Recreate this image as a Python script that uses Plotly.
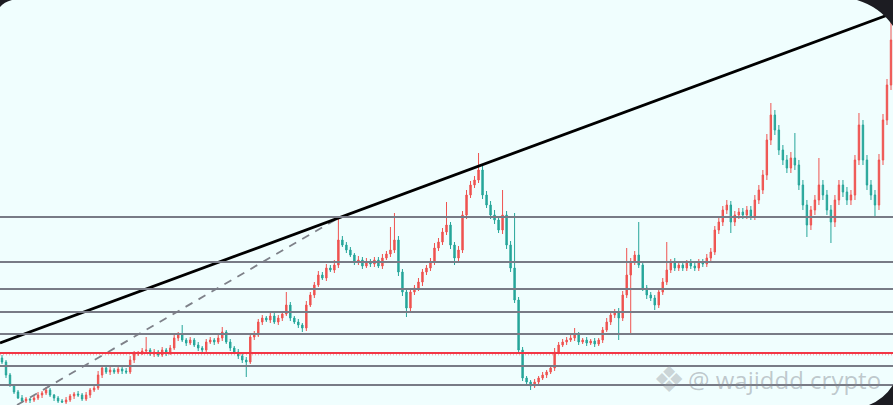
import plotly.graph_objects as go

# ---- data (price units) ----
first_open = 47
closes = [
    43, 30, 20, 13, 7, 4, 6, 5, 7, 10,
    12, 15, 10, 7, 4, 3, 5, 9, 11, 10,
    6, 10, 15, 17, 30, 37, 33, 35, 33, 36,
    34, 33, 45, 51, 52, 54, 55, 51, 53, 50,
    55, 52, 57, 67, 70, 65, 62, 65, 60, 57,
    55, 63, 65, 63, 67, 73, 63, 57, 53, 49,
    45, 43, 68, 70, 83, 87, 85, 89, 83, 87,
    91, 100, 87, 83, 80, 77, 100, 110, 120, 130,
    127, 137, 135, 140, 165, 160, 155, 150, 143, 145,
    139, 143, 141, 145, 139, 147, 151, 155, 165, 133,
    113, 97, 113, 117, 123, 133, 137, 143, 157, 163,
    173, 180, 160, 147, 155, 190, 210, 220, 225, 235,
    210, 200, 190, 185, 175, 190, 160, 137, 105, 55,
    27, 23, 19, 23, 27, 30, 33, 37, 53, 60,
    63, 65, 67, 70, 63, 65, 62, 64, 61, 65,
    75, 83, 90, 93, 87, 110, 130, 143, 150, 140,
    117, 110, 107, 100, 113, 123, 135, 143, 137, 140,
    137, 142, 139, 137, 143, 141, 147, 153, 175, 183,
    195, 200, 183, 190, 193, 190, 195, 189, 205, 215,
    230, 265, 290, 275, 255, 245, 237, 247, 240, 220,
    200, 180, 195, 205, 220, 210, 195, 183, 205, 220,
    213, 205, 210, 245, 280, 245, 220, 210, 200, 245,
    285, 320, 365,
]
wick_up = [
    3, 2, 2, 1, 2, 3, 2, 1, 3, 3,
    2, 3, 2, 1, 2, 2, 3, 2, 2, 3,
    2, 3, 2, 3, 4, 3, 2, 3, 2, 3,
    2, 3, 4, 3, 2, 3, 13, 2, 3, 2,
    3, 2, 3, 4, 3, 10, 2, 3, 2, 3,
    2, 3, 3, 2, 3, 5, 2, 3, 2, 3,
    2, 3, 3, 4, 3, 3, 2, 3, 4, 3,
    3, 13, 3, 2, 3, 2, 4, 3, 3, 4,
    3, 4, 3, 5, 23, 4, 3, 3, 2, 4,
    3, 4, 3, 3, 3, 4, 3, 23, 27, 4,
    3, 3, 4, 3, 4, 3, 3, 4, 5, 4,
    4, 23, 3, 3, 4, 4, 5, 4, 4, 17,
    4, 4, 4, 5, 4, 25, 4, 4, 55, 3,
    3, 2, 2, 3, 2, 3, 2, 3, 4, 3,
    3, 3, 3, 7, 3, 2, 3, 2, 3, 2,
    3, 4, 3, 3, 4, 4, 27, 4, 4, 33,
    4, 3, 3, 3, 4, 4, 28, 3, 4, 3,
    3, 3, 4, 3, 3, 3, 4, 4, 4, 4,
    4, 5, 4, 4, 4, 4, 4, 4, 5, 5,
    5, 6, 12, 5, 5, 5, 5, 6, 25, 5,
    5, 5, 4, 5, 27, 5, 5, 5, 5, 5,
    5, 5, 5, 5, 12, 5, 5, 5, 5, 6,
    6, 6, 20,
]
wick_dn = [
    2, 3, 2, 2, 1, 2, 2, 3, 2, 2,
    3, 2, 2, 3, 2, 1, 2, 2, 3, 2,
    2, 2, 3, 2, 2, 3, 2, 3, 2, 2,
    3, 2, 2, 3, 2, 2, 3, 2, 3, 2,
    2, 3, 2, 2, 3, 2, 3, 2, 2, 3,
    3, 2, 2, 3, 2, 3, 2, 3, 2, 3,
    3, 15, 2, 3, 2, 3, 2, 3, 2, 3,
    3, 2, 3, 2, 3, 4, 3, 2, 3, 2,
    2, 3, 2, 3, 3, 2, 3, 2, 3, 3,
    3, 2, 3, 3, 2, 3, 2, 3, 3, 4,
    4, 9, 3, 3, 3, 4, 3, 3, 3, 3,
    3, 3, 4, 7, 3, 3, 4, 3, 3, 3,
    4, 3, 4, 4, 3, 4, 4, 4, 3, 3,
    3, 3, 4, 2, 2, 2, 3, 2, 3, 2,
    2, 3, 2, 3, 3, 2, 3, 2, 3, 2,
    3, 2, 3, 3, 22, 3, 3, 58, 3, 3,
    3, 4, 3, 5, 3, 3, 3, 3, 3, 3,
    3, 3, 3, 3, 3, 3, 3, 3, 3, 4,
    4, 4, 11, 4, 4, 4, 4, 4, 4, 4,
    4, 5, 5, 5, 5, 5, 5, 5, 5, 5,
    5, 12, 5, 5, 5, 5, 5, 21, 5, 5,
    5, 5, 5, 5, 5, 5, 5, 5, 12, 5,
    5, 5, 5,
]
gray_levels = [188, 143, 116, 93, 71, 39, 20]
red_level = 52
trend_x = [-0.5, 222.5]
trend_y = [62, 392]
dash_x = [3.75, 84.4]
dash_y = [0, 188]

n = len(closes)
idx = list(range(n))
opens = [first_open] + closes[:-1]
highs = [max(o, c) + w for o, c, w in zip(opens, closes, wick_up)]
lows = [min(o, c) - w for o, c, w in zip(opens, closes, wick_dn)]

BG = "#f0fefe"
RED = "#ef5350"
TEAL = "#26a69a"
GRAY = "#787b86"
DARK = "#1c1c22"

fig = go.Figure()
fig.add_trace(go.Candlestick(
    x=idx, open=opens, high=highs, low=lows, close=closes,
    increasing=dict(line=dict(color=RED, width=1), fillcolor=RED),
    decreasing=dict(line=dict(color=TEAL, width=1), fillcolor=TEAL),
    whiskerwidth=0, showlegend=False, hoverinfo="skip",
))

shapes = []
for lv in gray_levels:
    shapes.append(dict(type="line", xref="paper", yref="y", x0=0, x1=1, y0=lv, y1=lv,
                       line=dict(color=GRAY, width=2)))
shapes.append(dict(type="line", xref="paper", yref="y", x0=0, x1=1, y0=red_level, y1=red_level,
                   line=dict(color="#f23645", width=2)))
shapes.append(dict(type="line", xref="paper", yref="y", x0=0, x1=1, y0=red_level - 1.8, y1=red_level - 1.8,
                   line=dict(color="rgba(242,54,69,0.55)", width=1, dash="1px,2px")))

fig.add_trace(go.Scatter(x=dash_x, y=dash_y, mode="lines", showlegend=False, hoverinfo="skip",
                         line=dict(color="#7e8189", width=1.8, dash="8px,7px")))
fig.add_trace(go.Scatter(x=trend_x, y=trend_y, mode="lines", showlegend=False, hoverinfo="skip",
                         line=dict(color="#000000", width=2.8)))

W, H = 893.0, 405.0
def px(x, y):
    return f"{x / W:.5f},{1 - y / H:.5f}"

# dark rounded screen corners
shapes.append(dict(type="path", xref="paper", yref="paper", layer="above",
                   path=f"M {px(857,0)} Q {px(880,7)} {px(893,26)} L {px(893,0)} Z",
                   fillcolor=DARK, line=dict(width=0)))
shapes.append(dict(type="path", xref="paper", yref="paper", layer="above",
                   path=f"M {px(869,405)} Q {px(884,399)} {px(893,385)} L {px(893,405)} Z",
                   fillcolor=DARK, line=dict(width=0)))
shapes.append(dict(type="path", xref="paper", yref="paper", layer="above",
                   path=f"M {px(0,7)} Q {px(4,2)} {px(12,0)} L {px(0,0)} Z",
                   fillcolor=DARK, line=dict(width=0)))

fig.update_layout(
    width=893, height=405,
    margin=dict(l=0, r=0, t=0, b=0),
    paper_bgcolor=BG, plot_bgcolor=BG,
    boxgap=0.5,
    shapes=shapes,
    xaxis=dict(visible=False, range=[-0.5, n - 0.5], rangeslider=dict(visible=False), fixedrange=True),
    yaxis=dict(visible=False, range=[0, 405], fixedrange=True),
    annotations=[
        dict(xref="paper", yref="paper", x=651 / W, y=1 - 379 / H, xanchor="left", yanchor="middle",
             text="❖", showarrow=False,
             font=dict(family="DejaVu Sans", size=36, color="rgba(150,154,160,0.42)")),
        dict(xref="paper", yref="paper", x=686 / W, y=1 - 379 / H, xanchor="left", yanchor="middle",
             text="@ wajiddd crypto", showarrow=False,
             font=dict(family="Open Sans", size=24, color="rgba(130,134,142,0.45)")),
    ],
)

fig.write_html(
    "out.html",
    config={"displayModeBar": False, "staticPlot": True},
    post_script="document.body.style.margin='0';document.body.style.overflow='hidden';document.body.style.background='#f0fefe';",
)
